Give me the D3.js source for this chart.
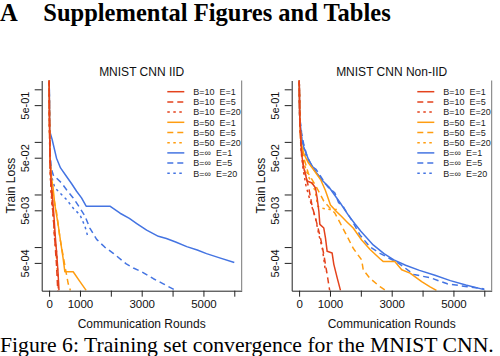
<!DOCTYPE html>
<html><head><meta charset="utf-8">
<script src="https://cdn.jsdelivr.net/npm/d3@7"></script>
<style>body{margin:0;background:#fff} svg{display:block}</style>
</head><body><svg id="c" width="500" height="356"></svg>
<script>
// ---------- data ----------
const panelTitles = ["MNIST CNN IID", "MNIST CNN Non-IID"];
const seriesLabels = ["B=10  E=1","B=10  E=5","B=10  E=20","B=50  E=1","B=50  E=5","B=50  E=20","B=\u221e  E=1","B=\u221e  E=5","B=\u221e  E=20"];
const xTickValues = [0,1000,2000,3000,4000,5000,6000];
const xTickLabels = [0,1000,3000,5000];
const yTickValues = [1,0.5,0.1,0.05,0.01,0.005,0.001,0.0005];
const yTickLabels = [0.5,0.05,0.005,0.0005];

// IID panel: [round, train loss]
const iid_b10_e1  = [[0,2.3],[10,0.3],[30,0.05],[60,0.02],[100,0.01],[150,0.0045],[200,0.0016],[250,0.0007],[290,0.00032],[320,0.00015]];
const iid_b10_e5  = [[0,2.3],[10,0.3],[30,0.04],[60,0.015],[100,0.007],[150,0.0028],[200,0.001],[240,0.00045],[280,0.00015]];
const iid_b10_e20 = [[0,2.3],[10,0.2],[30,0.03],[60,0.012],[100,0.0055],[130,0.0048],[180,0.0014],[240,0.00083],[270,0.0004],[300,0.00016]];
const iid_b50_e1  = [[0,2.3],[15,0.2],[30,0.05],[80,0.02],[130,0.0133],[185,0.0064],[292,0.0027],[370,0.0013],[455,0.0006],[510,0.00034],[780,0.00034],[1000,0.00022],[1200,0.00015]];
const iid_b50_e5  = [[0,2.3],[15,0.15],[40,0.03],[100,0.012],[180,0.007],[240,0.0046],[350,0.0015],[450,0.0007],[550,0.00033],[620,0.0002],[690,0.00015]];
const iid_b50_e20 = [[0,2.3],[10,0.3],[25,0.05],[50,0.02],[80,0.01],[120,0.005],[160,0.0025],[200,0.0012],[240,0.0006],[280,0.0003]];
const iid_binf_e1 = [[0,2.3],[20,0.16],[100,0.11],[240,0.049],[370,0.032],[565,0.022],[730,0.016],[890,0.0115],[1050,0.0086],[1200,0.006],[1970,0.006],[2300,0.0044],[2600,0.0035],[2840,0.0028],[3160,0.0021],[3540,0.0016],[3800,0.00145],[4100,0.00125],[4460,0.00102],[4800,0.00088],[5100,0.00075],[5500,0.00063],[6000,0.00051]];
const iid_binf_e5 = [[0,2.3],[20,0.2],[40,0.05],[80,0.03],[150,0.022],[240,0.0205],[400,0.0166],[565,0.0123],[780,0.0086],[1000,0.0055],[1160,0.0039],[1320,0.0023],[1540,0.0014],[1800,0.001],[2080,0.00076],[2500,0.00048],[2730,0.0004],[3000,0.00034],[3380,0.00025],[3700,0.0002],[4080,0.000152]];
const iid_binf_e20= [[0,2.3],[20,0.15],[40,0.04],[100,0.02],[185,0.0135],[350,0.0107],[565,0.008],[780,0.0055],[1000,0.0041],[1160,0.0025],[1266,0.0015]];

// Non-IID panel
const non_b10_e1  = [[0,2.3],[20,0.3],[80,0.06],[150,0.032],[260,0.018],[420,0.0165],[530,0.0133],[584,0.0086],[640,0.0048],[672,0.0027],[800,0.0023],[854,0.0015],[909,0.00083],[1070,0.00077],[1125,0.00047],[1234,0.00026],[1340,0.00015]];
const non_b10_e5  = [[0,2.3],[20,0.3],[60,0.08],[120,0.04],[205,0.024],[313,0.0133],[422,0.006],[584,0.0027],[692,0.0015],[801,0.00072],[909,0.0003],[990,0.00015]];
const non_b10_e20 = [[0,2.3],[20,0.3],[60,0.07],[130,0.03],[220,0.015],[300,0.01],[366,0.0074],[450,0.005],[529,0.0036],[640,0.0017],[750,0.00096],[800,0.0006],[854,0.00034]];
const non_b50_e1  = [[0,2.3],[20,0.3],[60,0.1],[150,0.06],[300,0.04],[500,0.028],[700,0.019],[850,0.012],[1016,0.0063],[1200,0.0048],[1377,0.0038],[1550,0.003],[1753,0.0023],[2026,0.00136],[2300,0.0009],[2620,0.0006],[2730,0.00053],[3100,0.00053],[3324,0.00037],[3594,0.00032],[3971,0.00022],[4244,0.000175],[4450,0.00015]];
const non_b50_e5  = [[0,2.3],[20,0.3],[60,0.08],[150,0.05],[300,0.025],[530,0.015],[800,0.0075],[1000,0.0055],[1150,0.0045],[1312,0.003],[1532,0.0017],[1753,0.00095],[2026,0.00057],[2078,0.00037],[2295,0.000255],[2620,0.000176],[2800,0.00015]];
const non_b50_e20 = [[0,2.3],[20,0.3],[60,0.08],[150,0.04],[300,0.022],[450,0.015],[530,0.011],[600,0.006],[700,0.0055],[1000,0.0052],[1250,0.0052]];
const non_binf_e1 = [[0,2.3],[20,0.3],[80,0.12],[150,0.08],[310,0.045],[450,0.033],[580,0.025],[770,0.018],[960,0.014],[1150,0.0098],[1340,0.0068],[1600,0.004],[1800,0.0028],[2000,0.002],[2400,0.0011],[2750,0.00075],[3070,0.00057],[3450,0.00045],[3900,0.00036],[4400,0.00029],[4900,0.00023],[5400,0.00019],[6000,0.000155]];
const non_binf_e5 = [[0,2.3],[20,0.3],[80,0.15],[150,0.09],[250,0.055],[420,0.034],[550,0.03],[700,0.022],[850,0.016],[1000,0.0125],[1100,0.0115],[1160,0.0106],[1280,0.007],[1430,0.0059],[1500,0.005],[1700,0.0033],[1970,0.0017],[2300,0.001],[2620,0.00076],[2950,0.0006],[3230,0.00049],[3720,0.0003],[4260,0.00026],[4800,0.0002],[5450,0.000176],[6000,0.00016]];
const non_binf_e20= [[0,2.3],[20,0.25],[80,0.12],[150,0.075],[250,0.05],[400,0.035],[550,0.026],[700,0.02],[850,0.016]];

const panelSeries = [
  [iid_b10_e1,iid_b10_e5,iid_b10_e20,iid_b50_e1,iid_b50_e5,iid_b50_e20,iid_binf_e1,iid_binf_e5,iid_binf_e20],
  [non_b10_e1,non_b10_e5,non_b10_e20,non_b50_e1,non_b50_e5,non_b50_e20,non_binf_e1,non_binf_e5,non_binf_e20]
];

// ---------- styles ----------
const colRed = "#e4421c", colOrange = "#ff9d10", colBlue = "#4474e2";
const seriesColors = [colRed,colRed,colRed,colOrange,colOrange,colOrange,colBlue,colBlue,colBlue];
const seriesDash = ["none","6,4","2.5,3.5","none","6,4","2.5,3.5","none","6,4","2.5,3.5"];
const sans = "Liberation Sans, Arial, sans-serif";
const serif = "Liberation Serif, Times New Roman, serif";

const svg = d3.select("#c");
svg.append("rect").attr("width",500).attr("height",356).attr("fill","#fff");

// header
svg.append("text").attr("x",0).attr("y",20.5).attr("font-family",serif).attr("font-weight","bold")
  .attr("font-size",24.5).attr("fill","#000").text("A");
svg.append("text").attr("x",43.3).attr("y",20.5).attr("font-family",serif).attr("font-weight","bold")
  .attr("font-size",24.5).attr("fill","#000").text("Supplemental Figures and Tables");

// caption
svg.append("text").attr("x",0).attr("y",352).attr("font-family",serif)
  .attr("font-size",21.7).attr("fill","#000").text("Figure 6: Training set convergence for the MNIST CNN.");

const fmtY = d => { const e = Math.floor(Math.log10(d)+1e-9); const m = Math.round(d/Math.pow(10,e)); return m+"e-"+String(-e).padStart(2,"0"); };

panelTitles.forEach((title, p) => {
  const g = svg.append("g").attr("transform", `translate(${p*250},0)`);
  const x = d3.scaleLinear().domain([-240,6240]).range([41.7,241.7]);
  const y = d3.scaleLog().domain([1.48e-4,1.47]).range([290.7,80.5]);
  const [x0,x1] = x.range(), [yb,yt] = y.range();

  const clipId = "clip"+p;
  g.append("clipPath").attr("id",clipId).append("rect")
    .attr("x",x0).attr("y",yt).attr("width",x1-x0).attr("height",yb-yt);

  const line = d3.line().x(d=>x(d[0])).y(d=>y(d[1]));
  const lg = g.append("g").attr("clip-path",`url(#${clipId})`);
  [6,7,8,3,4,5,0,1,2].forEach(i => {
    lg.append("path").datum(panelSeries[p][i]).attr("d",line)
      .attr("fill","none").attr("stroke",seriesColors[i]).attr("stroke-width",1.5)
      .attr("stroke-dasharray",seriesDash[i]==="none"?null:seriesDash[i])
      .attr("stroke-linejoin","round");
  });

  const xa = g.append("g").attr("transform",`translate(0,${yb})`)
    .call(d3.axisBottom(x).tickValues(xTickValues).tickSize(6).tickSizeOuter(0)
      .tickFormat(d => xTickLabels.includes(d) ? d : ""));
  xa.select(".domain").attr("stroke","#222");
  xa.selectAll(".tick line").attr("stroke","#222");
  xa.selectAll(".tick text").attr("font-family",sans).attr("font-size",11.5).attr("fill","#111").attr("y",9);

  const ya = g.append("g").attr("transform",`translate(${x0},0)`)
    .call(d3.axisLeft(y).tickValues(yTickValues).tickSize(7).tickSizeOuter(0)
      .tickFormat(d => yTickLabels.some(v=>Math.abs(v-d)<1e-12) ? fmtY(d) : ""));
  ya.select(".domain").attr("stroke","#222");
  ya.selectAll(".tick line").attr("stroke","#222");
  ya.selectAll(".tick text").attr("font-family",sans).attr("font-size",11).attr("fill","#111")
    .attr("x",null).attr("dy",null).attr("text-anchor","middle")
    .attr("transform","translate(-12.5,0) rotate(-90)");

  g.append("line").attr("x1",x1).attr("x2",x1).attr("y1",yt).attr("y2",yb)
    .attr("stroke","#777").attr("stroke-width",1);

  g.append("text").attr("x",(x0+x1)/2).attr("y",76).attr("text-anchor","middle")
    .attr("font-family",sans).attr("font-size",12).attr("fill","#111").text(title);
  g.append("text").attr("x",(x0+x1)/2).attr("y",327.5).attr("text-anchor","middle")
    .attr("font-family",sans).attr("font-size",12).attr("fill","#111").text("Communication Rounds");
  g.append("text").attr("transform",`translate(14.5,${(yt+yb)/2}) rotate(-90)`).attr("text-anchor","middle")
    .attr("font-family",sans).attr("font-size",12).attr("fill","#111").text("Train Loss");

  const leg = g.append("g");
  seriesLabels.forEach((lab,i) => {
    const cy = 91.7 + i*10.2;
    leg.append("line").attr("x1",167.3).attr("x2",184.3).attr("y1",cy).attr("y2",cy)
      .attr("stroke",seriesColors[i]).attr("stroke-width",1.5)
      .attr("stroke-dasharray",seriesDash[i]==="none"?null:seriesDash[i]);
    leg.append("text").attr("x",193.3).attr("y",cy+3.2).attr("font-family",sans)
      .attr("font-size",9).attr("fill","#222").style("white-space","pre").text(lab);
  });
});
</script></body></html>
